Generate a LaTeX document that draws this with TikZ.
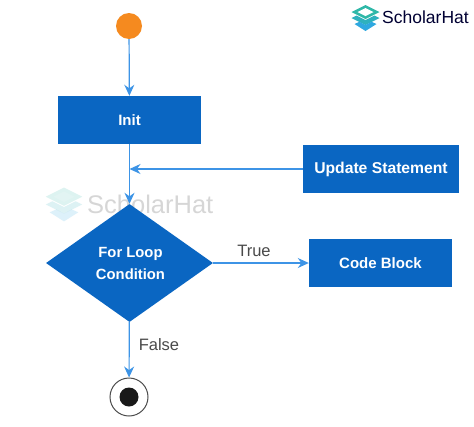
\documentclass[tikz,border=0pt]{standalone}
\usepackage{fontspec}
\setmainfont{Liberation Sans}
\usetikzlibrary{shapes.geometric,arrows.meta}
\definecolor{boxblue}{HTML}{0A66C2}
\definecolor{linkblue}{HTML}{3D94E6}
\definecolor{startor}{HTML}{F58A1F}
\definecolor{labelgray}{HTML}{4A4A4A}
\definecolor{logoteal}{HTML}{2FB8A8}
\definecolor{logoblue}{HTML}{2FA8E0}
\tikzset{
  x=1pt,y=-1pt,
  boxnode/.style={draw=none,fill=boxblue,text=white,font=\bfseries\fontsize{15}{18}\selectfont,inner sep=0pt,align=center},
  link/.style={draw=linkblue,line width=1.2pt,-{Stealth[length=11pt,width=10pt]}},
  edgelabel/.style={text=labelgray,font=\fontsize{16.5}{19}\selectfont,inner sep=0pt},
}
\newcommand{\logomark}[4]{%
  \begin{scope}[shift={(#1,#2)},scale=#3,opacity=#4]
    \fill[logoteal] (-14,-6) -- (0,-13) -- (14,-6) -- (0,1) -- cycle;
    \fill[white] (-8,-6) -- (0,-10) -- (8,-6) -- (0,-2) -- cycle;
    \fill[logoteal!60!logoblue] (-14,0) -- (-9,-2.5) -- (0,2) -- (9,-2.5) -- (14,0) -- (0,7) -- cycle;
    \fill[logoblue] (-11,6) -- (-6,3.8) -- (0,7) -- (6,3.8) -- (11,6) -- (0,13) -- cycle;
  \end{scope}}
\begin{document}
\begin{tikzpicture}
\useasboundingbox (0,0) rectangle (474,426);
\fill[white] (0,0) rectangle (474,426);
\logomark{365.5}{18}{1}{1}
\node[anchor=west,inner sep=0pt,text=black!80!blue,font=\fontsize{17.5}{20}\selectfont] (brand) at (382,17.5) {ScholarHat};
\logomark{64}{204.5}{1.3}{0.16}
\node[anchor=west,inner sep=0pt,text=black,opacity=0.16,font=\fontsize{25.5}{28}\selectfont] (mark) at (87,204.5) {ScholarHat};
\node[circle,fill=startor,minimum size=26pt,inner sep=0pt] (start) at (129,26) {};
\node[boxnode,minimum width=143pt,minimum height=48pt] (init) at (129.5,120) {\raisebox{-0.5pt}{Init}};
\node[boxnode,minimum width=156pt,minimum height=48pt] (update) at (381,169) {\raisebox{-2.5pt}{\fontsize{15.7}{18}\selectfont Update Statement}};
\node[boxnode,diamond,aspect=1.415,minimum width=167pt,minimum height=118pt] (cond) at (129.5,263) {};
\node[text=white,font=\bfseries\fontsize{14.8}{22}\selectfont,align=center,inner sep=0pt] (condtext) at (130.5,263) {For Loop\\Condition};
\node[boxnode,minimum width=143pt,minimum height=48pt] (code) at (380.5,263) {\raisebox{-1pt}{Code Block}};
\node[circle,draw=black!70,line width=1pt,fill=white,minimum size=38pt,inner sep=0pt] (stop) at (129,397) {};
\node[circle,fill=black!90,minimum size=19pt,inner sep=0pt] (stopdot) at (129,397) {};
\coordinate (join) at (129.5,169);
\draw[link] (start) -- (init);
\draw[link] (init) -- (cond);
\draw[link] (update) -- (join);
\draw[link] (cond) -- (code);
\draw[link] (cond) -- (stop);
\node[edgelabel] (truel) at (254,251) {True};
\node[edgelabel] (falsel) at (159,345) {False};
\end{tikzpicture}
\end{document}
